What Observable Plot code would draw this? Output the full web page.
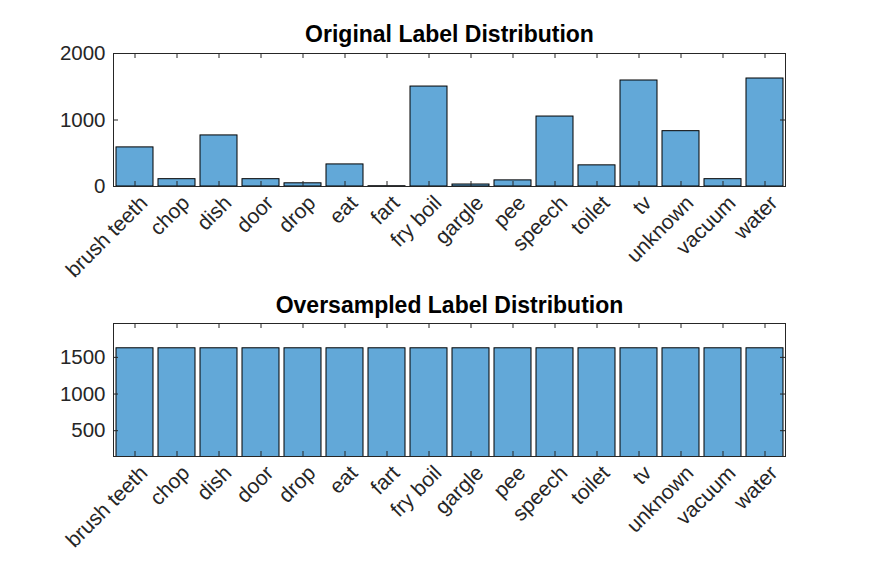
<!DOCTYPE html>
<html>
<head>
<meta charset="utf-8">
<script src="https://cdn.jsdelivr.net/npm/d3@7"></script>
<script src="https://cdn.jsdelivr.net/npm/@observablehq/plot@0.6"></script>
<style>
  html, body { margin: 0; padding: 0; background: #fff; }
  #wrap { width: 869px; height: 573px; overflow: hidden; }
  #wrap svg { display: block; }
</style>
</head>
<body>
<div id="wrap"></div>
<script>
const categories = ["brush teeth","chop","dish","door","drop","eat","fart","fry boil","gargle","pee","speech","toilet","tv","unknown","vacuum","water"];
const originalCounts = [588, 110, 768, 110, 48, 332, 4, 1503, 30, 92, 1052, 318, 1594, 832, 110, 1624];
const oversampledCounts = [1624,1624,1624,1624,1624,1624,1624,1624,1624,1624,1624,1624,1624,1624,1624,1624];
const titles = ["Original Label Distribution", "Oversampled Label Distribution"];
const topTicks = [0, 1000, 2000];
const bottomTicks = [500, 1000, 1500];
const topDomain = [0, 2000];
const bottomDomain = [148, 1962];

const FONT = "'Liberation Sans', Arial, Helvetica, sans-serif";
const INK = "#262626";
const BAR = "#62a8d8";

function panel(values, title, yTicks, yDomain, opts) {
  const data = categories.map((c, i) => ({cat: c, v: values[i]}));
  const innerH = opts.height - opts.marginTop - opts.marginBottom;
  const innerW = 869 - 113 - 84;
  const T = 5;
  return Plot.plot({
    width: 869,
    height: opts.height,
    marginTop: opts.marginTop,
    marginBottom: opts.marginBottom,
    marginLeft: 113,
    marginRight: 84,
    style: {fontFamily: FONT, fontSize: "20px", color: INK, background: "white", overflow: "visible"},
    x: {type: "band", domain: categories, paddingInner: 0.12, paddingOuter: 0.06, label: null},
    y: {domain: yDomain, label: null},
    marks: [
      Plot.barY(data, {x: "cat", y: "v", fill: BAR, stroke: "black", strokeWidth: 1, clip: true}),
      Plot.frame({stroke: INK, strokeWidth: 1}),
      Plot.tickX(categories, {x: d => d, stroke: INK, insetTop: innerH - T}),
      Plot.tickX(categories, {x: d => d, stroke: INK, insetBottom: innerH - T}),
      Plot.tickY(yTicks, {y: d => d, stroke: INK, insetRight: innerW - T}),
      Plot.tickY(yTicks, {y: d => d, stroke: INK, insetLeft: innerW - T}),
      Plot.axisY(yTicks, {tickSize: 0, tickPadding: 8, fontSize: 20.5, fill: INK, tickFormat: d3.format("d")}),
      Plot.axisX({tickSize: 0, tickRotate: -45, tickPadding: 13, dx: 9, lineAnchor: "middle", fontSize: 21, fill: INK}),
      Plot.text([title], {frameAnchor: "top", dy: opts.titleDy, text: d => d, fontWeight: "bold", fontSize: 23, fill: "black", lineAnchor: "middle"})
    ]
  });
}

const wrap = document.getElementById("wrap");
wrap.appendChild(panel(originalCounts, titles[0], topTicks, topDomain, {height: 286, marginTop: 53, marginBottom: 100, titleDy: -19}));
wrap.appendChild(panel(oversampledCounts, titles[1], bottomTicks, bottomDomain, {height: 287, marginTop: 37, marginBottom: 117, titleDy: -18}));
</script>
</body>
</html>
